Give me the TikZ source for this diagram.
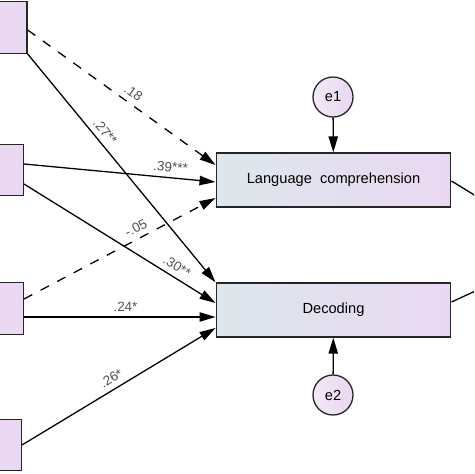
\documentclass[tikz,border=0pt]{standalone}
\usepackage{fontspec}
\setmainfont{Liberation Sans}
\usepackage{tikz}
\usetikzlibrary{arrows.meta}
\usetikzlibrary{calc}

\definecolor{lilac}{RGB}{234,216,242}
\definecolor{steelmist}{RGB}{221,231,236}
\definecolor{coefgray}{RGB}{80,80,80}

\begin{document}
\begin{tikzpicture}[
    x=0.03cm, y=-0.03cm,
    predictor/.style={draw=black!85, line width=1.1pt, fill=lilac, minimum width=1.4cm, minimum height=1.55cm},
    outcome/.style={draw=black!85, line width=1.1pt, left color=steelmist, right color=lilac, minimum width=7.04cm, minimum height=1.62cm, font=\fontsize{12.5}{15}\selectfont},
    error/.style={circle, draw=black!85, line width=1.1pt, left color=white!40!lilac, right color=lilac, minimum size=1.2cm, inner sep=0pt, font=\fontsize{12.5}{15}\selectfont},
    effect/.style={line width=1.1pt, -{Triangle[length=4.8mm,width=2.8mm]}},
    weak effect/.style={effect, dash pattern=on 8pt off 8pt},
    coef/.style={sloped, above, text=coefgray, inner sep=4.5pt, font=\fontsize{11.5}{13}\selectfont}
    ]
    \clip (0,0) rectangle (474,474);

    % predictors (cut by the left edge)
    \node[predictor] (p1) at (3.7,27.5) {};
    \node[predictor] (p2) at (0,170) {};
    \node[predictor] (p3) at (0,308.5) {};
    \node[predictor] (p4) at (-2,445) {};

    % outcomes and their errors
    \node[outcome] (lang) at (333.5,180) {Language\ \ comprehension};
    \node[outcome] (dec) at (333.5,310) {Decoding};
    \node[error] (e1) at (333,97) {e1};
    \node[error] (e2) at (333,395) {e2};
    \coordinate (langout) at (484,201);
    \coordinate (decout) at (484,287);

    % paths to language comprehension
    \draw[weak effect] ($(p1.east)+(0,2.5)$) -- ($(lang.west)+(0,-15)$) node[coef, pos=0.53] {.18};
    \draw[effect] ($(p2.east)+(0,-6)$) -- ($(lang.west)+(0,2)$) node[coef, pos=0.76] {.39***};
    \draw[weak effect] ($(p3.east)+(0,-9.5)$) -- ($(lang.west)+(0,18)$) node[coef, pos=0.61] {-.05};
    % paths to decoding
    \draw[effect] (p1.south east) -- (dec.north west) node[coef, pos=0.37] {.27**};
    \draw[effect] ($(p2.east)+(0,14)$) -- ($(dec.west)+(0,-7)$) node[coef, pos=0.77] {.30**};
    \draw[effect] ($(p3.east)+(0,8.5)$) -- ($(dec.west)+(0,7)$) node[coef, pos=0.53] {.24*};
    \draw[effect] (p4.east) -- ($(dec.west)+(0,18)$) node[coef, pos=0.49] {.26*};
    % errors
    \draw[effect] (e1) -- (lang);
    \draw[effect] (e2) -- (dec);
    % lines leaving on the right
    \draw[line width=1.1pt] ($(lang.east)+(0,1)$) -- (langout);
    \draw[line width=1.1pt] ($(dec.east)+(0,-8)$) -- (decout);
\end{tikzpicture}
\end{document}
